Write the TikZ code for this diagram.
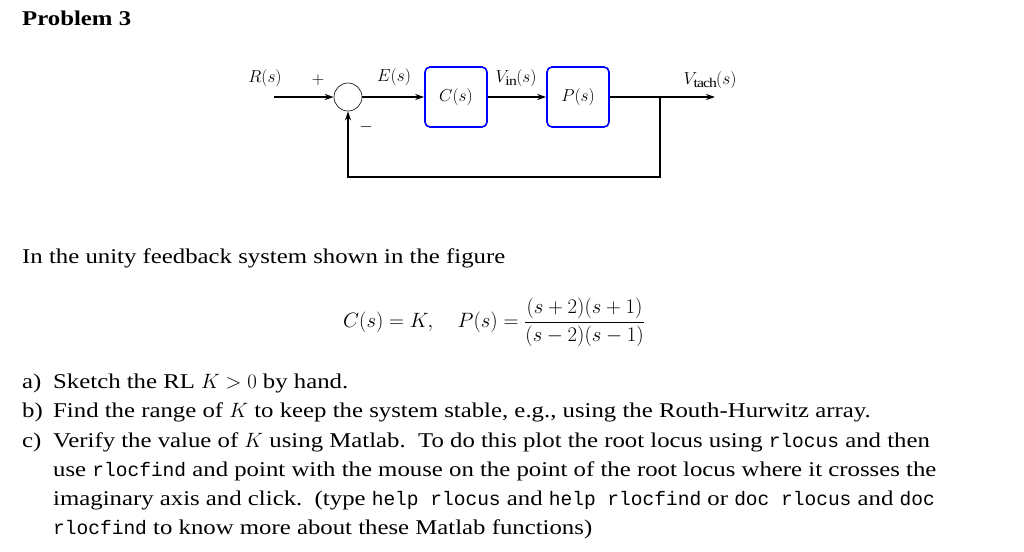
\documentclass[tikz,border=0pt]{standalone}
\usepackage{fontspec}
\setmainfont[FakeStretch=1.18]{Liberation Serif}
\setmonofont[Scale=0.93]{Liberation Mono}
\usetikzlibrary{arrows.meta}
\begin{document}
\begin{tikzpicture}[x=1pt,y=-1pt,
  blk/.style={draw=blue,line width=1.6pt,rounded corners=5pt,minimum width=62pt,minimum height=60pt,font=\fontsize{19}{22}\selectfont},
  ln/.style={line width=1.4pt},
  arr/.style={ln,-{Stealth[length=9pt,width=6pt]}},
  lab/.style={font=\fontsize{19}{22}\selectfont},
  txt/.style={anchor=west,inner sep=0pt,font=\fontsize{21}{25}\selectfont}]
\useasboundingbox (0,0) rectangle (1024,551);
\node[anchor=west,inner sep=0pt,font=\fontsize{21}{25}\selectfont\bfseries] (title) at (22,18) {Problem 3};
\node[draw,circle,minimum size=28pt,inner sep=0pt,line width=0.6pt] (sum) at (348,97) {};
\coordinate (rin) at (274,97);
\node[blk] (C) at (456,97) {$C(s)$};
\node[blk] (P) at (578,97) {$P(s)$};
\coordinate (out) at (715,97);
\coordinate (br) at (660,97);
\coordinate (bl) at (660,177);
\coordinate (bb) at (348,177);
\draw[arr] (rin) -- (sum);
\draw[arr] (sum) -- (C);
\draw[arr] (C) -- (P);
\draw[arr] (P) -- (out);
\draw[arr] (br) -- (bl) -- (bb) -- (sum);
\node[lab] (rl) at (265,78) {$R(s)$};
\node[lab] (pl) at (318,80) {$+$};
\node[lab] (ml) at (366,127) {$-$};
\node[lab] (el) at (394,77) {$E(s)$};
\node[lab] (vl) at (516,78) {$V_{\mathrm{in}}(s)$};
\node[lab] (tl) at (710,80) {$V_{\mathrm{tach}}(s)$};
\node[txt] (t1) at (22,258) {In the unity feedback system shown in the figure};
\node[inner sep=0pt,font=\fontsize{21}{25}\selectfont] (eq) at (494,322) {$\displaystyle C(s)=K,\quad P(s)=\frac{(s+2)(s+1)}{(s-2)(s-1)}$};
\node[txt] (la) at (22,383) {a)};
\node[txt] (a1) at (53,383) {Sketch the RL $K>0$ by hand.};
\node[txt] (lb) at (22,412) {b)};
\node[txt] (b1) at (53,412) {Find the range of $K$ to keep the system stable, e.g., using the Routh-Hurwitz array.};
\node[txt] (lc) at (22,442) {c)};
\node[txt] (c1) at (53,442) {Verify the value of $K$ using Matlab.\ \ To do this plot the root locus using \texttt{rlocus} and then};
\node[txt] (c2) at (53,471) {use \texttt{rlocfind} and point with the mouse on the point of the root locus where it crosses the};
\node[txt] (c3) at (53,500) {imaginary axis and click.\ \ (type \texttt{help rlocus} and \texttt{help rlocfind} or \texttt{doc rlocus} and \texttt{doc}};
\node[txt] (c4) at (53,529) {\texttt{rlocfind} to know more about these Matlab functions)};
\end{tikzpicture}
\end{document}
